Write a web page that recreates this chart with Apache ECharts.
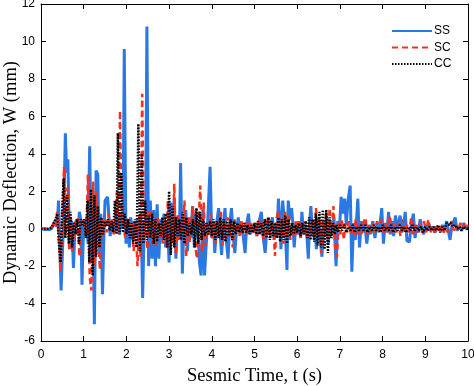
<!DOCTYPE html>
<html>
<head>
<meta charset="utf-8">
<script src="https://cdn.jsdelivr.net/npm/echarts@6/dist/echarts.min.js"></script>
<style>html,body{margin:0;padding:0;background:#fff;}#c{width:474px;height:386px;}</style>
</head>
<body>
<div id="c"></div>
<script>
const seriesNames = ['SS', 'SC', 'CC'];
const xTicks = { min: 0, max: 10, interval: 1 };
const yTicks = { min: -6, max: 12, interval: 2 };

const ssData = [[0,0],[0.1,-0.05],[0.2,-0.05],[0.25,0.0],[0.3,0.3],[0.35,0.5],[0.38,0.1],[0.41,1.5],[0.44,1.4],[0.47,-3.3],[0.5,-3.4],[0.53,0.5],[0.57,5.1],[0.6,3.0],[0.63,3.7],[0.66,-0.2],[0.69,-1.1],[0.72,0.4],[0.76,-2.1],[0.8,0.3],[0.84,0.5],[0.87,0.1],[0.9,0.9],[0.93,0.5],[0.96,-3.0],[1.0,0.4],[1.03,0.0],[1.07,0.6],[1.1,-0.8],[1.14,4.4],[1.18,-1.5],[1.21,1.2],[1.25,-5.1],[1.29,3.1],[1.33,2.9],[1.36,-1.2],[1.4,0.8],[1.44,-3.5],[1.48,0.2],[1.5,1.5],[1.53,1.4],[1.56,1.7],[1.59,1.6],[1.62,-0.4],[1.66,0.4],[1.7,0.3],[1.73,-0.2],[1.77,0.8],[1.8,0.4],[1.84,-0.3],[1.88,0.9],[1.92,0.0],[1.95,9.6],[1.99,-0.8],[2.03,0.3],[2.07,-1.0],[2.1,0.6],[2.14,-0.6],[2.18,0.4],[2.22,-0.5],[2.26,0.5],[2.3,-1.2],[2.34,0.8],[2.38,-3.7],[2.42,0.4],[2.45,0.2],[2.48,10.8],[2.52,-2.0],[2.56,1.5],[2.6,-1.6],[2.64,1.0],[2.68,-2.0],[2.72,1.3],[2.76,-1.6],[2.8,0.5],[2.84,-0.6],[2.88,0.8],[2.92,-1.0],[2.96,0.4],[3.0,-1.8],[3.04,1.4],[3.08,-0.5],[3.12,1.6],[3.16,-1.6],[3.2,0.6],[3.24,-0.6],[3.27,3.5],[3.31,-2.4],[3.35,0.4],[3.39,1.0],[3.43,-1.2],[3.47,0.6],[3.51,-0.5],[3.55,1.2],[3.59,-1.0],[3.63,0.8],[3.67,0.3],[3.71,-1.8],[3.75,-2.5],[3.79,1.0],[3.83,-2.5],[3.87,-0.8],[3.9,0.2],[3.96,3.3],[4.0,-0.5],[4.04,0.3],[4.07,-1.3],[4.12,0.4],[4.16,1.1],[4.2,-0.5],[4.23,-1.4],[4.27,0.3],[4.31,1.1],[4.34,-0.6],[4.38,-1.6],[4.42,0.2],[4.46,1.1],[4.5,-0.4],[4.54,-1.3],[4.58,0.0],[4.62,0.6],[4.66,-0.3],[4.7,0.2],[4.74,-0.5],[4.78,-1.3],[4.82,0.3],[4.86,0.8],[4.9,-0.3],[4.94,0.2],[4.98,-0.2],[5.02,0.3],[5.06,-0.4],[5.1,0.3],[5.16,0.9],[5.2,-0.4],[5.25,-1.3],[5.3,0.4],[5.34,-0.3],[5.38,0.2],[5.42,0.6],[5.46,-0.6],[5.5,0.3],[5.53,-0.5],[5.56,1.6],[5.6,0.2],[5.62,-1.1],[5.66,1.5],[5.7,0.4],[5.73,-0.5],[5.76,-2.2],[5.79,1.5],[5.83,0.5],[5.87,1.1],[5.9,0.2],[5.93,-1.0],[5.97,0.3],[6.0,-0.3],[6.04,0.4],[6.08,-0.5],[6.11,0.9],[6.15,-0.3],[6.19,0.2],[6.23,-0.5],[6.26,-1.6],[6.29,0.3],[6.32,1.2],[6.36,-0.4],[6.4,0.5],[6.45,-1.1],[6.49,0.6],[6.53,-0.3],[6.58,-1.5],[6.62,0.4],[6.66,-0.4],[6.7,0.6],[6.73,-0.8],[6.77,0.3],[6.82,-0.3],[6.86,0.6],[6.91,-2.0],[6.95,0.4],[6.99,0.0],[7.03,1.7],[7.07,0.8],[7.11,1.6],[7.15,0.2],[7.19,1.5],[7.24,2.3],[7.28,-2.3],[7.32,0.3],[7.36,-0.6],[7.42,1.6],[7.46,-1.0],[7.5,0.4],[7.54,-0.2],[7.58,0.3],[7.63,-0.8],[7.68,0.2],[7.72,-0.3],[7.77,0.4],[7.82,-0.5],[7.87,0.3],[7.92,-0.2],[7.98,1.1],[8.02,-0.8],[8.06,0.3],[8.1,-0.2],[8.14,0.9],[8.18,-0.3],[8.22,0.4],[8.26,-0.4],[8.3,0.7],[8.35,0.0],[8.41,0.7],[8.45,-0.2],[8.5,0.3],[8.53,0.9],[8.57,-0.65],[8.63,-0.7],[8.67,0.2],[8.72,0.8],[8.76,-0.5],[8.8,0.2],[8.84,-0.2],[8.88,0.5],[8.92,0.0],[8.96,-0.3],[9.0,0.2],[9.04,-0.1],[9.08,0.3],[9.13,-0.1],[9.18,0.1],[9.23,-0.2],[9.3,0.1],[9.35,-0.1],[9.4,0.2],[9.45,-0.1],[9.5,0.4],[9.54,-0.1],[9.58,-0.6],[9.62,0.1],[9.66,0.2],[9.7,0.6],[9.74,-0.1],[9.8,0.1],[9.85,-0.1],[9.9,0.3],[9.95,0.0],[10,0.0]];

const scData = [[0,0],[0.1,0],[0.2,0],[0.26,0.1],[0.3,0.3],[0.34,0.1],[0.38,0.9],[0.42,-0.6],[0.46,-2.3],[0.5,0.8],[0.54,3.3],[0.58,-0.3],[0.62,2.2],[0.66,-1.2],[0.7,0.6],[0.74,-1.3],[0.78,0.4],[0.82,-0.3],[0.86,0.6],[0.9,-1.5],[0.94,0.3],[0.98,0.2],[1.02,0.5],[1.06,-0.4],[1.1,2.9],[1.14,-2.6],[1.18,-3.3],[1.22,2.5],[1.26,-2.0],[1.3,2.0],[1.34,-0.6],[1.38,-2.2],[1.42,0.5],[1.46,-0.3],[1.5,0.5],[1.54,-0.2],[1.58,0.8],[1.62,0.0],[1.66,0.5],[1.7,-0.3],[1.74,0.6],[1.78,2.0],[1.82,-0.2],[1.85,6.3],[1.89,0.3],[1.93,0.6],[1.97,-0.5],[2.01,0.3],[2.05,0.6],[2.09,-0.2],[2.13,0.3],[2.17,-1.2],[2.21,0.4],[2.26,-2.0],[2.3,0.8],[2.33,-1.5],[2.37,7.2],[2.41,-0.6],[2.45,1.0],[2.49,-1.1],[2.53,0.8],[2.57,1.0],[2.61,-0.8],[2.65,0.5],[2.69,-0.9],[2.73,0.6],[2.77,-0.5],[2.81,0.2],[2.85,-0.8],[2.89,0.6],[2.93,-1.0],[2.97,1.5],[3.01,-1.0],[3.05,0.5],[3.09,-0.8],[3.12,2.4],[3.16,-1.4],[3.2,0.8],[3.24,-0.6],[3.28,0.4],[3.32,-0.3],[3.36,1.5],[3.4,-1.5],[3.44,0.6],[3.48,-0.7],[3.52,0.4],[3.56,1.2],[3.6,-0.6],[3.65,-1.6],[3.69,0.3],[3.73,2.3],[3.77,-1.3],[3.81,1.4],[3.85,-0.9],[3.89,0.3],[3.93,-0.4],[3.97,0.8],[4.01,-0.6],[4.05,0.5],[4.09,-0.8],[4.13,0.4],[4.17,-0.3],[4.21,0.9],[4.25,-0.9],[4.29,0.3],[4.33,-0.5],[4.37,0.6],[4.41,-0.4],[4.45,0.4],[4.49,-1.0],[4.53,0.5],[4.57,-0.3],[4.61,0.3],[4.65,-0.4],[4.69,0.5],[4.73,-0.2],[4.77,0.3],[4.81,-0.3],[4.85,0.4],[4.89,-0.2],[4.93,0.3],[4.97,-0.3],[5.01,0.3],[5.05,-0.4],[5.09,0.5],[5.13,-0.3],[5.17,0.4],[5.21,-0.6],[5.25,0.6],[5.29,-0.4],[5.33,0.7],[5.37,-0.5],[5.41,0.4],[5.45,-0.3],[5.48,-1.45],[5.52,0.6],[5.56,1.0],[5.6,-0.5],[5.64,0.6],[5.68,-0.8],[5.72,0.9],[5.76,-0.4],[5.8,0.7],[5.84,-0.6],[5.88,0.3],[5.92,-0.4],[5.96,0.4],[6.0,-0.3],[6.04,0.5],[6.08,-0.5],[6.12,0.3],[6.16,-0.2],[6.2,0.4],[6.24,-0.5],[6.28,0.3],[6.32,-0.2],[6.36,0.5],[6.4,-0.6],[6.44,1.1],[6.48,-0.4],[6.52,0.6],[6.56,-1.3],[6.6,0.5],[6.64,-0.4],[6.68,0.9],[6.72,-0.6],[6.76,1.1],[6.8,-0.3],[6.85,1.2],[6.89,-1.0],[6.93,-1.5],[6.97,0.4],[7.01,-0.3],[7.05,0.5],[7.09,-0.6],[7.13,0.3],[7.17,-0.2],[7.21,0.4],[7.25,-0.3],[7.29,0.2],[7.33,-0.4],[7.37,0.5],[7.41,-0.3],[7.45,0.2],[7.5,-0.3],[7.55,0.3],[7.6,0.6],[7.64,-0.3],[7.68,0.2],[7.72,-0.2],[7.77,0.3],[7.82,-0.2],[7.87,0.4],[7.92,-0.1],[7.97,0.5],[8.02,-0.3],[8.07,0.3],[8.12,-0.2],[8.17,0.7],[8.22,-0.2],[8.27,0.3],[8.32,-0.2],[8.37,0.3],[8.42,-0.4],[8.47,0.5],[8.52,-0.2],[8.57,0.2],[8.62,-0.2],[8.67,0.6],[8.72,-0.3],[8.77,0.2],[8.82,-0.2],[8.87,0.3],[8.92,-0.2],[8.97,0.4],[9.02,-0.2],[9.07,0.5],[9.12,-0.2],[9.17,0.2],[9.22,-0.3],[9.27,0.2],[9.32,-0.1],[9.37,0.2],[9.42,-0.3],[9.47,0.1],[9.52,-0.2],[9.57,0.2],[9.62,0.4],[9.67,-0.1],[9.72,0.2],[9.77,-0.1],[9.82,0.3],[9.87,0.0],[9.92,0.3],[9.97,0.1],[10,0.2]];

const ccData = [[0,0],[0.1,0],[0.2,0],[0.26,0.1],[0.3,0.3],[0.34,0.5],[0.38,0.8],[0.42,-0.8],[0.46,-1.8],[0.5,1.2],[0.53,2.7],[0.57,-0.5],[0.61,1.8],[0.65,-0.8],[0.69,0.9],[0.73,-1.0],[0.77,0.3],[0.81,-0.3],[0.85,0.5],[0.89,-0.8],[0.93,0.5],[0.97,0.2],[1.01,0.5],[1.05,-0.5],[1.09,1.5],[1.13,-1.8],[1.17,2.1],[1.21,-2.5],[1.25,1.8],[1.29,-1.5],[1.33,1.2],[1.37,-1.0],[1.41,0.6],[1.45,-0.3],[1.49,0.4],[1.53,0.1],[1.57,0.5],[1.61,-0.1],[1.65,0.4],[1.69,-0.2],[1.73,1.5],[1.77,-0.3],[1.8,5.1],[1.84,-0.3],[1.88,3.0],[1.92,-0.2],[1.96,0.8],[2.0,-0.3],[2.04,0.5],[2.08,-0.5],[2.12,0.3],[2.16,-0.8],[2.2,0.5],[2.24,-1.0],[2.28,5.6],[2.32,-1.2],[2.36,4.0],[2.4,-0.8],[2.44,1.5],[2.48,-0.6],[2.52,0.7],[2.56,-0.5],[2.6,0.8],[2.64,-0.8],[2.68,0.5],[2.72,-0.7],[2.76,0.3],[2.8,-0.4],[2.84,0.6],[2.88,-0.6],[2.92,0.8],[2.96,-1.0],[3.0,2.0],[3.04,-1.4],[3.08,1.2],[3.12,-1.0],[3.16,0.6],[3.2,-0.4],[3.24,0.5],[3.28,-0.6],[3.32,0.9],[3.36,-0.8],[3.4,0.6],[3.44,-0.4],[3.48,0.3],[3.52,-0.3],[3.56,0.5],[3.6,-1.0],[3.64,1.1],[3.68,-0.8],[3.72,0.9],[3.76,-0.6],[3.8,0.5],[3.84,-0.4],[3.88,0.3],[3.92,-0.3],[3.96,0.4],[4.0,-0.4],[4.04,0.5],[4.08,-0.6],[4.12,0.4],[4.16,-0.5],[4.2,0.6],[4.24,-0.6],[4.28,0.5],[4.32,-0.7],[4.36,0.4],[4.4,-0.4],[4.44,0.5],[4.48,-0.6],[4.52,0.4],[4.56,-0.3],[4.6,0.3],[4.64,-0.2],[4.68,0.2],[4.72,-0.2],[4.76,0.3],[4.8,-0.2],[4.84,0.2],[4.88,-0.3],[4.92,0.2],[4.96,-0.2],[5.0,0.3],[5.04,-0.3],[5.08,0.4],[5.12,-0.3],[5.16,0.3],[5.2,-0.4],[5.24,0.5],[5.28,-0.5],[5.32,0.6],[5.36,-0.6],[5.4,0.4],[5.44,-0.4],[5.48,0.3],[5.52,-0.5],[5.56,0.6],[5.6,-0.7],[5.64,0.5],[5.68,-0.6],[5.72,0.7],[5.76,-0.8],[5.8,0.5],[5.84,-0.4],[5.88,0.3],[5.92,-0.3],[5.96,0.2],[6.0,-0.2],[6.04,0.3],[6.08,-0.4],[6.12,0.3],[6.16,-0.3],[6.2,0.4],[6.24,-0.5],[6.28,0.6],[6.32,-0.6],[6.36,0.5],[6.4,-0.7],[6.44,0.8],[6.48,-0.9],[6.52,0.9],[6.56,-1.0],[6.6,1.0],[6.64,-1.1],[6.68,1.0],[6.72,-1.3],[6.76,0.6],[6.8,-0.5],[6.84,0.3],[6.88,-0.3],[6.92,0.2],[6.96,-0.2],[7.0,0.2],[7.05,-0.1],[7.1,0.2],[7.15,-0.2],[7.2,0.1],[7.25,-0.1],[7.3,0.2],[7.35,-0.2],[7.4,0.1],[7.45,-0.1],[7.5,0.2],[7.55,-0.1],[7.6,0.2],[7.65,-0.2],[7.7,0.1],[7.75,-0.1],[7.8,0.2],[7.85,-0.1],[7.9,0.1],[7.95,-0.2],[8.0,0.2],[8.05,-0.1],[8.1,0.1],[8.15,-0.1],[8.2,0.2],[8.25,-0.2],[8.3,0.1],[8.35,-0.1],[8.4,0.2],[8.45,-0.1],[8.5,0.1],[8.55,-0.2],[8.6,0.1],[8.65,-0.1],[8.7,0.2],[8.75,-0.1],[8.8,0.1],[8.85,-0.1],[8.9,0.1],[8.95,-0.2],[9.0,0.1],[9.05,-0.1],[9.1,0.1],[9.15,-0.1],[9.2,0.1],[9.25,-0.1],[9.3,0.2],[9.35,-0.2],[9.4,0.1],[9.45,-0.1],[9.5,0.3],[9.55,0.2],[9.6,0.3],[9.65,0.1],[9.7,0.2],[9.75,0.0],[9.8,0.1],[9.85,-0.1],[9.9,0.1],[9.95,0.0],[10,0.0]];

const chart = echarts.init(document.getElementById('c'), null, { renderer: 'canvas' });
const sans = 'Liberation Sans, Arial, sans-serif';
const serif = 'Liberation Serif, Times New Roman, serif';
const axisCommon = {
  axisLine: { show: true, onZero: false, lineStyle: { color: '#000', width: 1 } },
  axisTick: { show: true, inside: true, length: 5, lineStyle: { color: '#000' } },
  splitLine: { show: false }
};
chart.setOption({
  animation: false,
  backgroundColor: '#fff',
  grid: { left: 41, right: 6, top: 4, bottom: 45, containLabel: false, outerBoundsMode: 'none' },
  legend: {
    orient: 'vertical', left: 386, top: 20, itemWidth: 40, itemHeight: 12, itemGap: 4.5,
    itemStyle: { opacity: 0 },
    textStyle: { fontFamily: sans, fontSize: 12, color: '#000', padding: [0, 0, 0, -3] },
    data: seriesNames
  },
  xAxis: [
    Object.assign({ type: 'value', position: 'bottom', min: xTicks.min, max: xTicks.max, interval: xTicks.interval,
      name: 'Sesmic Time, t (s)', nameLocation: 'middle', nameGap: 26, nameMoveOverlap: false,
      nameTextStyle: { fontFamily: serif, fontSize: 18.5, color: '#000' },
      axisLabel: { fontFamily: sans, fontSize: 12, color: '#000', margin: 8 } }, axisCommon),
    Object.assign({ type: 'value', position: 'top', min: xTicks.min, max: xTicks.max, interval: xTicks.interval,
      axisLabel: { show: false } }, axisCommon)
  ],
  yAxis: [
    Object.assign({ type: 'value', position: 'left', min: yTicks.min, max: yTicks.max, interval: yTicks.interval,
      name: 'Dynamic Deflection, W (mm)', nameLocation: 'middle', nameGap: 20, nameMoveOverlap: false,
      nameTextStyle: { fontFamily: serif, fontSize: 18.5, color: '#000' },
      axisLabel: { fontFamily: sans, fontSize: 12, color: '#000', margin: 6 } }, axisCommon),
    Object.assign({ type: 'value', position: 'right', min: yTicks.min, max: yTicks.max, interval: yTicks.interval,
      axisLabel: { show: false } }, axisCommon)
  ],
  series: [
    { name: seriesNames[0], type: 'line', data: ssData, showSymbol: false, symbol: 'none', xAxisIndex: 0, yAxisIndex: 0,
      lineStyle: { color: '#2a78e4', width: 3 }, itemStyle: { color: '#2a78e4' } },
    { name: seriesNames[1], type: 'line', data: scData, showSymbol: false, symbol: 'none', xAxisIndex: 0, yAxisIndex: 0,
      lineStyle: { color: '#f5301c', width: 2.5, type: [6, 4] }, itemStyle: { color: '#f5301c' } },
    { name: seriesNames[2], type: 'line', data: ccData, showSymbol: false, symbol: 'none', xAxisIndex: 0, yAxisIndex: 0,
      lineStyle: { color: '#000', width: 2.5, type: [1.5, 1.5] }, itemStyle: { color: '#000' } }
  ]
});
</script>
</body>
</html>
